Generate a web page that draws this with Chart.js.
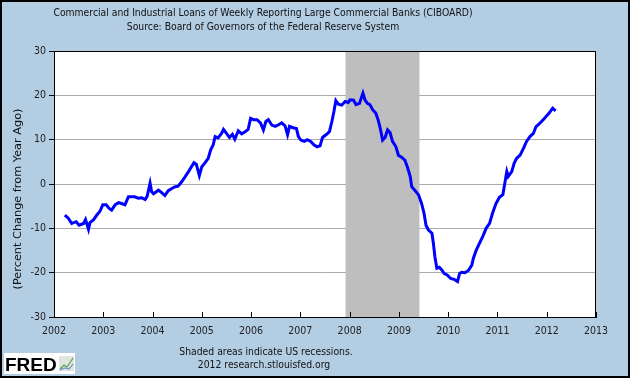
<!DOCTYPE html>
<html>
<head>
<meta charset="utf-8">
<script src="https://cdn.jsdelivr.net/npm/chart.js@4/dist/chart.umd.min.js"></script>
<style>
  html, body { margin: 0; padding: 0; background: #B3CDE3; }
  canvas { display: block; }
</style>
</head>
<body>
<canvas id="fredChart" width="630" height="378"></canvas>
<script>
// Percent change from year ago (decimal year)
const years = [
  2002.22, 2002.29, 2002.36, 2002.45, 2002.51, 2002.60, 2002.64, 2002.70, 2002.73, 2002.80,
  2002.87, 2002.93, 2002.99, 2003.06, 2003.12, 2003.17, 2003.24, 2003.31, 2003.37, 2003.44,
  2003.51, 2003.58, 2003.64, 2003.71, 2003.78, 2003.85, 2003.89, 2003.95, 2003.98, 2004.02,
  2004.12, 2004.18, 2004.25, 2004.32, 2004.39, 2004.46, 2004.52, 2004.59, 2004.66, 2004.73,
  2004.79, 2004.84, 2004.89, 2004.95, 2005.00, 2005.06, 2005.13, 2005.18, 2005.23, 2005.27,
  2005.33, 2005.40, 2005.44, 2005.50, 2005.56, 2005.62, 2005.67, 2005.74, 2005.81, 2005.87,
  2005.94, 2005.99, 2006.05, 2006.12, 2006.19, 2006.25, 2006.30, 2006.35, 2006.42, 2006.49,
  2006.55, 2006.62, 2006.69, 2006.74, 2006.78, 2006.85, 2006.92, 2006.96, 2007.01, 2007.08,
  2007.14, 2007.21, 2007.28, 2007.34, 2007.40, 2007.45, 2007.52, 2007.59, 2007.64, 2007.68,
  2007.72, 2007.77, 2007.84, 2007.91, 2007.97, 2008.01, 2008.08, 2008.13, 2008.20, 2008.27,
  2008.31, 2008.36, 2008.41, 2008.47, 2008.53, 2008.58, 2008.62, 2008.67, 2008.72, 2008.77,
  2008.82, 2008.87, 2008.94, 2008.99, 2009.06, 2009.12, 2009.17, 2009.23, 2009.26, 2009.33,
  2009.40, 2009.46, 2009.51, 2009.55, 2009.60, 2009.67, 2009.70, 2009.73, 2009.77, 2009.82,
  2009.87, 2009.92, 2009.98, 2010.05, 2010.12, 2010.19, 2010.23, 2010.27, 2010.34, 2010.41,
  2010.48, 2010.51, 2010.57, 2010.63, 2010.70, 2010.77, 2010.84, 2010.90, 2010.97, 2011.04,
  2011.11, 2011.15, 2011.19, 2011.22, 2011.29, 2011.34, 2011.39, 2011.46, 2011.53, 2011.59,
  2011.66, 2011.73, 2011.78, 2011.85, 2011.92, 2011.99, 2012.05, 2012.12, 2012.18
];
const pctChange = [
  -7.0, -7.7, -8.9, -8.5, -9.3, -8.9, -8.0, -10.2, -8.7, -8.1,
  -7.0, -6.2, -4.7, -4.7, -5.5, -5.9, -4.7, -4.2, -4.4, -4.7,
  -2.9, -2.9, -2.9, -3.2, -3.1, -3.5, -2.8, 0.2, -1.7, -2.2,
  -1.4, -1.9, -2.6, -1.5, -1.0, -0.6, -0.5, 0.5, 1.6, 2.8,
  3.9, 4.8, 4.4, 1.9, 3.9, 4.7, 5.8, 7.7, 8.8, 10.7,
  10.4, 11.4, 12.3, 11.4, 10.5, 11.2, 10.1, 12.0, 11.3, 11.7,
  12.3, 14.8, 14.5, 14.5, 13.8, 12.2, 14.1, 14.5, 13.3, 13.0,
  13.3, 13.8, 13.1, 11.1, 13.0, 12.7, 12.5, 10.7, 9.9, 9.6,
  10.0, 9.6, 8.8, 8.4, 8.6, 10.5, 11.1, 11.8, 14.1, 16.3,
  18.8, 18.0, 17.8, 18.6, 18.4, 19.0, 18.9, 17.9, 18.2, 20.5,
  19.0, 18.2, 17.9, 16.7, 16.0, 14.4, 12.6, 9.9, 10.5, 12.2,
  11.6, 9.6, 8.4, 6.5, 6.0, 5.4, 3.9, 1.7, -0.6, -1.5,
  -2.5, -4.4, -6.6, -9.3, -10.4, -11.1, -13.4, -16.4, -19.0, -18.8,
  -19.4, -20.2, -20.5, -21.3, -21.5, -22.0, -20.2, -19.9, -20.0, -19.5,
  -18.3, -16.8, -14.9, -13.5, -11.9, -10.0, -8.9, -6.6, -4.4, -3.0,
  -2.4, 0.2, 2.8, 1.7, 2.8, 4.7, 5.8, 6.5, 8.1, 9.6,
  10.7, 11.4, 12.9, 13.6, 14.4, 15.3, 16.0, 17.1, 16.5
];

// Recession (Dec 2007 - Jun 2009)
const recessionStart = [2007.917];
const recessionEnd = [2009.417];

const titleLines = [
  "Commercial and Industrial Loans of Weekly Reporting Large Commercial Banks (CIBOARD)",
  "Source: Board of Governors of the Federal Reserve System"
];
const footerLines = [
  "Shaded areas indicate US recessions.",
  "2012 research.stlouisfed.org"
];
const yTitle = "(Percent Change from Year Ago)";

const BG = "#B3CDE3";
const FONT = "'DejaVu Sans', Verdana, sans-serif";
const NARROW = "'DejaVu Sans Condensed', 'DejaVu Sans', sans-serif";

// Background, recession bars, frame and the FRED texts
const fredPlugin = {
  id: "fred",
  beforeDraw(chart) {
    const ctx = chart.ctx, a = chart.chartArea;
    ctx.save();
    ctx.fillStyle = BG;
    ctx.fillRect(0, 0, chart.width, chart.height);
    ctx.fillStyle = "#fff";
    ctx.fillRect(a.left, a.top, a.right - a.left, a.bottom - a.top);
    ctx.restore();
  },
  beforeDatasetsDraw(chart) {
    const ctx = chart.ctx, a = chart.chartArea, x = chart.scales.x;
    ctx.save();
    ctx.fillStyle = "#BEBEBE";
    recessionStart.forEach((s, i) => {
      const x0 = x.getPixelForValue(s);
      const x1 = x.getPixelForValue(recessionEnd[i]);
      ctx.fillRect(x0, a.top, x1 - x0, a.bottom - a.top);
    });
    ctx.restore();
  },
  afterDraw(chart) {
    const ctx = chart.ctx, a = chart.chartArea, x = chart.scales.x;
    ctx.save();
    // frame
    ctx.strokeStyle = "#000";
    ctx.lineWidth = 1;
    ctx.strokeRect(a.left + 0.5, a.top + 0.5, a.right - a.left - 1, a.bottom - a.top);
    // x ticks pointing inward
    x.ticks.forEach(t => {
      const px = Math.round(x.getPixelForValue(t.value)) + 0.5;
      ctx.beginPath();
      ctx.moveTo(px, a.bottom);
      ctx.lineTo(px, a.bottom - 5);
      ctx.stroke();
    });

    ctx.fillStyle = "#111";
    ctx.textAlign = "center";
    ctx.textBaseline = "middle";
    ctx.font = "10.3px " + NARROW;
    ctx.fillText(titleLines[0], 263, 13);
    ctx.fillText(titleLines[1], 263, 27);
    ctx.fillText(footerLines[0], 266, 352);
    ctx.fillText(footerLines[1], 264, 365);

    ctx.save();
    ctx.translate(18, 199);
    ctx.rotate(-Math.PI / 2);
    ctx.font = "11.3px " + FONT;
    ctx.fillText(yTitle, 0, 0);
    ctx.restore();

    // FRED logo
    ctx.fillStyle = "#fff";
    ctx.fillRect(4, 353, 71, 21);
    ctx.fillStyle = "#000";
    ctx.textAlign = "left";
    ctx.textBaseline = "alphabetic";
    ctx.font = "bold 19px 'Liberation Sans', Arial, sans-serif";
    ctx.fillText("FRED", 5, 371);
    ctx.fillStyle = "#dfe6e0";
    ctx.fillRect(59, 356, 15, 15);
    ctx.lineWidth = 1.2;
    ctx.strokeStyle = "#5aa04a";
    ctx.beginPath();
    ctx.moveTo(60, 369); ctx.lineTo(64, 365); ctx.lineTo(67, 367); ctx.lineTo(73, 358);
    ctx.stroke();
    ctx.strokeStyle = "#6b8fc0";
    ctx.beginPath();
    ctx.moveTo(60, 370); ctx.lineTo(65, 368); ctx.lineTo(69, 369); ctx.lineTo(73, 364);
    ctx.stroke();

    // outer border
    ctx.strokeStyle = "#000";
    ctx.lineWidth = 2;
    ctx.strokeRect(1, 1, chart.width - 2, chart.height - 2);
    ctx.restore();
  }
};

new Chart(document.getElementById("fredChart"), {
  type: "line",
  data: {
    datasets: [{
      data: years.map((yr, i) => ({ x: yr, y: pctChange[i] })),
      borderColor: "#0000FF",
      borderWidth: 3,
      pointRadius: 0,
      tension: 0,
      fill: false
    }]
  },
  options: {
    responsive: false,
    animation: false,
    layout: { padding: { top: 51, right: 34, left: 0, bottom: 0 } },
    plugins: {
      legend: { display: false },
      tooltip: { enabled: false }
    },
    scales: {
      x: {
        type: "linear",
        min: 2002,
        max: 2013,
        afterFit: s => { s.height = 61; },
        ticks: {
          stepSize: 1,
          autoSkip: false,
          maxRotation: 0,
          padding: 8,
          color: "#222",
          font: { family: NARROW, size: 10.5 },
          callback: v => String(v)
        },
        grid: { drawOnChartArea: false, drawTicks: false },
        border: { color: "#000" }
      },
      y: {
        min: -30,
        max: 30,
        afterFit: s => { s.width = 54; },
        ticks: {
          stepSize: 10,
          padding: 3,
          color: "#222",
          font: { family: NARROW, size: 10.5 }
        },
        grid: { color: "#AAAAAA", tickColor: "#000", tickLength: 5 },
        border: { color: "#000" }
      }
    }
  },
  plugins: [fredPlugin]
});
</script>
</body>
</html>
